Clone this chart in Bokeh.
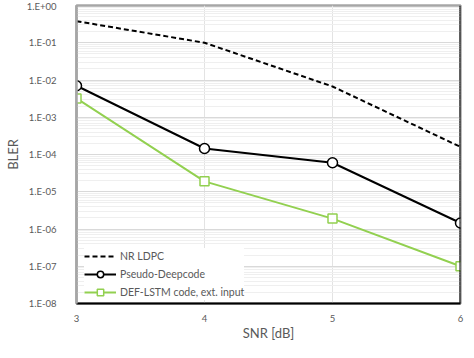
from bokeh.plotting import figure
from bokeh.models import Range1d, FixedTicker, Span, Legend, LegendItem
from bokeh.embed import file_html
from bokeh.resources import INLINE

# ---- data ----
snr = [3, 4, 5, 6]
nr_ldpc = [0.38, 0.10, 6.7e-3, 1.6e-4]
pseudo_deepcode = [7.0e-3, 1.45e-4, 6.0e-5, 1.45e-6]
def_lstm = [3.2e-3, 1.9e-5, 1.9e-6, 1.0e-7]

x_ticks = [3, 4, 5, 6]
y_ticks = [1e0, 1e-1, 1e-2, 1e-3, 1e-4, 1e-5, 1e-6, 1e-7, 1e-8]
y_tick_labels = ["1.E+00", "1.E-01", "1.E-02", "1.E-03", "1.E-04",
                 "1.E-05", "1.E-06", "1.E-07", "1.E-08"]
series_names = ["NR LDPC", "Pseudo-Deepcode", "DEF-LSTM code, ext. input"]

FONT = "Lato"
TXT = "#595959"
GREEN = "#92D050"

minor = [m * 10.0 ** k for k in range(-8, 0) for m in range(2, 10)]

p = figure(width=466, height=350, y_axis_type="log",
           x_range=Range1d(3, 6), y_range=Range1d(1e-8, 1),
           output_backend="svg", toolbar_location=None,
           min_border_left=76, min_border_right=6, min_border_top=5,
           min_border_bottom=47)
p.background_fill_color = "white"
p.border_fill_color = "white"
p.outline_line_color = "#a6a6a6"
p.outline_line_width = 2.5

# axes
p.xaxis.ticker = FixedTicker(ticks=x_ticks)
p.yaxis.ticker = FixedTicker(ticks=y_ticks, minor_ticks=minor)
p.yaxis.major_label_overrides = {t: l for t, l in zip(y_ticks, y_tick_labels)}
for ax in (p.xaxis[0], p.yaxis[0]):
    ax.major_tick_line_color = None
    ax.minor_tick_line_color = None
    ax.major_tick_out = 0
    ax.major_tick_in = 0
    ax.minor_tick_out = 0
    ax.minor_tick_in = 0
    ax.major_label_text_font = FONT
    ax.major_label_text_color = TXT
    ax.major_label_text_font_size = "9.5px"
    ax.axis_label_text_font = FONT
    ax.axis_label_text_color = TXT
    ax.axis_label_text_font_size = "13px"
    ax.axis_label_text_font_style = "normal"
p.yaxis.axis_label = "BLER"
p.xaxis.axis_label = "SNR [dB]"
p.yaxis.major_label_standoff = 20
p.yaxis.axis_label_standoff = 3
p.xaxis.major_label_standoff = 11
p.xaxis.axis_label_standoff = 0
p.yaxis.axis_line_color = "#a6a6a6"
p.yaxis.axis_line_width = 2.5
p.xaxis.axis_line_color = "black"
p.xaxis.axis_line_width = 2

# grid
p.xgrid.ticker = FixedTicker(ticks=x_ticks)
p.xgrid.grid_line_color = "#e3e3e3"
p.ygrid.grid_line_color = "#d9d9d9"
p.ygrid.minor_grid_line_color = "#efefef"

p.add_layout(Span(location=6, dimension="height", line_color="black", line_width=2))

# series
r1 = p.line(snr, nr_ldpc, line_color="black", line_width=2, line_dash="5 3")
r2 = p.line(snr, pseudo_deepcode, line_color="black", line_width=2)
r2m = p.scatter(snr, pseudo_deepcode, marker="circle", size=10,
                fill_color="white", line_color="black", line_width=1.5)
r3 = p.line(snr, def_lstm, line_color=GREEN, line_width=2)
r3m = p.scatter(snr, def_lstm, marker="square", size=9,
                fill_color="white", line_color=GREEN, line_width=1.5)

legend = Legend(items=[LegendItem(label=series_names[0], renderers=[r1]),
                       LegendItem(label=series_names[1], renderers=[r2, r2m]),
                       LegendItem(label=series_names[2], renderers=[r3, r3m])],
                location=(8, 3), padding=6, spacing=2, glyph_width=32,
                glyph_height=16, label_standoff=4, margin=0,
                label_text_font=FONT, label_text_color=TXT,
                label_text_font_size="10.5px", border_line_color=None,
                background_fill_color="white", background_fill_alpha=1.0)
p.add_layout(legend, "center")

open("out.html", "w").write(file_html(p, INLINE))
